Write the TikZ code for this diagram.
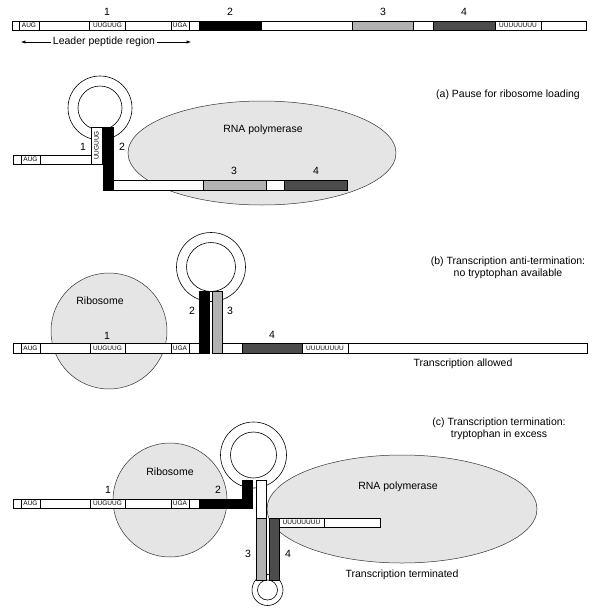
\documentclass[tikz,border=0pt]{standalone}
\usepackage{xcolor}
\usepackage{fontspec}
\setmainfont{Liberation Sans}
\usetikzlibrary{arrows,shapes.geometric}

\begin{document}
\begin{tikzpicture}[
  x=1pt, y=-1pt,
  font=\fontsize{10.5}{12}\selectfont,
  strand/.style={draw, fill=white, line width=0.6pt},
  codon/.style={draw, fill=white, line width=0.6pt, inner sep=0pt, minimum height=9pt, font=\fontsize{6.5}{7}\selectfont},
  seg2/.style={strand, fill=black},
  seg3/.style={strand, fill=black!30},
  seg4/.style={strand, fill=black!70},
  ring/.style={draw, fill=white, even odd rule, line width=0.6pt},
  poly/.style={ellipse, draw=black!80, fill=gray!20, line width=0.5pt, inner sep=0pt},
  ribo/.style={circle, draw=black!80, fill=gray!20, line width=0.5pt, inner sep=0pt},
  num/.style={inner sep=1pt},
  txt/.style={inner sep=2pt, align=center},
  arrow/.style={->,>=latex, line width=0.5pt},
]
\useasboundingbox (0,0) rectangle (599,616);

\draw[strand] (12,21) rectangle (586,30);
\node[codon, minimum width=20pt] (aug0) at (29,25.5) {AUG};
\node[codon, minimum width=36pt] (uug0) at (107.5,25.5) {UUGUUG};
\node[codon, minimum width=18pt] (uga0) at (180,25.5) {UGA};
\draw[seg2] (199,21) rectangle (261,30);
\draw[seg3] (352,21) rectangle (413,30);
\draw[seg4] (433,21) rectangle (495,30);
\node[codon, minimum width=46pt] (uuu0) at (518,25.5) {UUUUUUUU};
\node[num] (top1) at (107,12) {1};
\node[num] (top2) at (230,12) {2};
\node[num] (top3) at (383,12) {3};
\node[num] (top4) at (464,12) {4};
\node[txt] (lead) at (104,42) {Leader peptide region};
\coordinate (leadL) at (21,42);
\coordinate (leadR) at (191,42);
\draw[arrow] (lead.west) -- (leadL);
\draw[arrow] (lead.east) -- (leadR);

\node[txt] (capA) at (508,95) {(a) Pause for ribosome loading};
\node[poly, minimum width=268pt, minimum height=104pt] (polA) at (262,153) {};
\node[txt] (polAtxt) at (263,130) {RNA polymerase};
\draw[ring] (100,108) circle (32pt) circle (22pt);
\draw[strand] (13,155) rectangle (91,164);
\node[codon, minimum width=19pt] (augA) at (30.5,159.5) {AUG};
\node[codon, rotate=90, minimum width=37pt, minimum height=11pt] (uugA) at (96.5,145.5) {UUGUUG};
\draw[seg2] (103,127) rectangle (113,190);
\draw[strand] (113,180) rectangle (347,190);
\draw[seg3] (203,180) rectangle (266,190);
\draw[seg4] (284,180) rectangle (347,190);
\node[num] (a1) at (83,147) {1};
\node[num] (a2) at (122,147) {2};
\node[num] (a3) at (234,171) {3};
\node[num] (a4) at (316,171) {4};

\node[txt] (capB) at (508,268) {(b) Transcription anti-termination:\\no tryptophan available};
\node[ribo, minimum size=116pt] (riboB) at (109,331) {};
\node[txt] (riboBtxt) at (100,301) {Ribosome};
\draw[ring] (211,267) circle (34.5pt) circle (24.5pt);
\draw[strand] (13,343) rectangle (199,353);
\node[codon, minimum width=19pt, minimum height=10pt] (augB) at (30.5,348) {AUG};
\node[codon, minimum width=35pt, minimum height=10pt] (uugB) at (107.5,348) {UUGUUG};
\node[codon, minimum width=18pt, minimum height=10pt] (ugaB) at (180,348) {UGA};
\draw[seg2] (199,291) rectangle (209,353);
\draw[seg3] (212,291) rectangle (222,353);
\draw[strand] (222,343) rectangle (587,353);
\draw[seg4] (242,343) rectangle (302,353);
\node[codon, minimum width=46pt, minimum height=10pt] (uuuB) at (325,348) {UUUUUUUU};
\node[num] (b1) at (107,336) {1};
\node[num] (b2) at (192,311) {2};
\node[num] (b3) at (230,311) {3};
\node[num] (b4) at (272,335) {4};
\node[txt] (allowed) at (463,364) {Transcription allowed};

\node[txt] (capC) at (499,429) {(c) Transcription termination:\\tryptophan in excess};
\node[ribo, minimum size=114pt] (riboC) at (170,500) {};
\node[txt] (riboCtxt) at (170,472) {Ribosome};
\node[poly, minimum width=270pt, minimum height=108pt] (polC) at (402,509) {};
\node[txt] (polCtxt) at (398,487) {RNA polymerase};
\draw[ring] (253.5,455) circle (33pt) circle (23pt);
\draw[ring] (267.5,590) circle (15.5pt) circle (10pt);
\draw[strand] (13,499) rectangle (199,508);
\node[codon, minimum width=19pt] (augC) at (30.5,503.5) {AUG};
\node[codon, minimum width=35pt] (uugC) at (107.5,503.5) {UUGUUG};
\node[codon, minimum width=18pt] (ugaC) at (180,503.5) {UGA};
\draw[seg2] (199,499) -- (242,499) -- (242,480) -- (252,480) -- (252,508) -- (199,508) -- cycle;
\draw[strand] (256,480) rectangle (266,518);
\draw[seg3] (256,518) rectangle (266,580);
\draw[seg4] (269,518) rectangle (279,580);
\node[codon, minimum width=45pt] (uuuC) at (301.5,522.5) {UUUUUUUU};
\draw[strand] (324,518) rectangle (380,527);
\node[num] (c1) at (108,490) {1};
\node[num] (c2) at (218,490) {2};
\node[num] (c3) at (248,554) {3};
\node[num] (c4) at (288,554) {4};
\node[txt] (terminated) at (402,575) {Transcription terminated};

\end{tikzpicture}
\end{document}
